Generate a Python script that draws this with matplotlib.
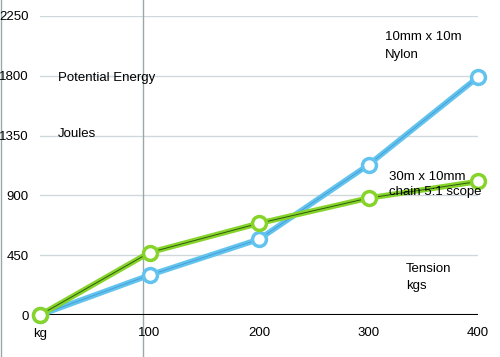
import matplotlib.pyplot as plt

# tension (kg) on x, energy (joules) on y
tension = [0, 100, 200, 300, 400]
x_labels = ["kg", "100", "200", "300", "400"]
nylon = [0, 300, 570, 1130, 1790]
chain = [0, 470, 690, 880, 1005]
y_ticks = [0, 450, 900, 1350, 1800, 2250]

plt.rcParams['font.family'] = ['Liberation Sans', 'DejaVu Sans']

fig = plt.figure(figsize=(5, 3.57), dpi=100)
ax = fig.add_axes([40/500, 42/357, 438/500, 299/357])
ax.set_xlim(0, 400)
ax.set_ylim(0, 2250)

for s in ax.spines.values():
    s.set_visible(False)

# grid lines
for yv in y_ticks[1:]:
    ax.axhline(yv, color='#cfd9dc', lw=1, zorder=0)
ax.axhline(0, color='black', lw=1.5, zorder=1)
ax.axvline(94, color='#9aa8aa', lw=1, zorder=0, ymin=-0.2, ymax=1.1, clip_on=False)
fig.add_artist(plt.Line2D([0.5/500, 0.5/500], [0, 1], color='#9aa8aa', lw=1, zorder=0))

# blue line (nylon)
ax.plot(tension, nylon, color='#62c3ee', lw=4, zorder=3, clip_on=False)
ax.plot(tension, nylon, color='#2f7fc0', lw=0.6, zorder=3, alpha=0.6, clip_on=False)
ax.plot(tension, nylon, ls='none', marker='o', ms=10, mfc='white', mec='#62c3ee',
        mew=2.5, zorder=4, clip_on=False)

# green line (chain)
ax.plot(tension, chain, color='#86d42a', lw=4, zorder=5, clip_on=False)
ax.plot(tension, chain, color='#2f5a10', lw=0.7, zorder=5, clip_on=False)
ax.plot(tension, chain, ls='none', marker='o', ms=10, mfc='white', mec='#86d42a',
        mew=2.5, zorder=6, clip_on=False)

ax.set_xticks(tension)
ax.set_xticklabels(x_labels)
ax.set_yticks(y_ticks)
ax.tick_params(length=0, labelsize=9.5)
ax.tick_params(axis='x', pad=9)
ax.tick_params(axis='y', pad=8)

fs = 9.5
notes = [
    (16, 1780, "Potential Energy"),
    (16, 1365, "Joules"),
    (315, 2090, "10mm x 10m"),
    (315, 1960, "Nylon"),
    (319, 1035, "30m x 10mm"),
    (319, 925, "chain 5:1 scope"),
    (334, 345, "Tension"),
    (334, 215, "kgs"),
]
for tx, ty, s in notes:
    ax.text(tx, ty, s, fontsize=fs, va='center', zorder=10)

fig.savefig('out.png', dpi=100)
